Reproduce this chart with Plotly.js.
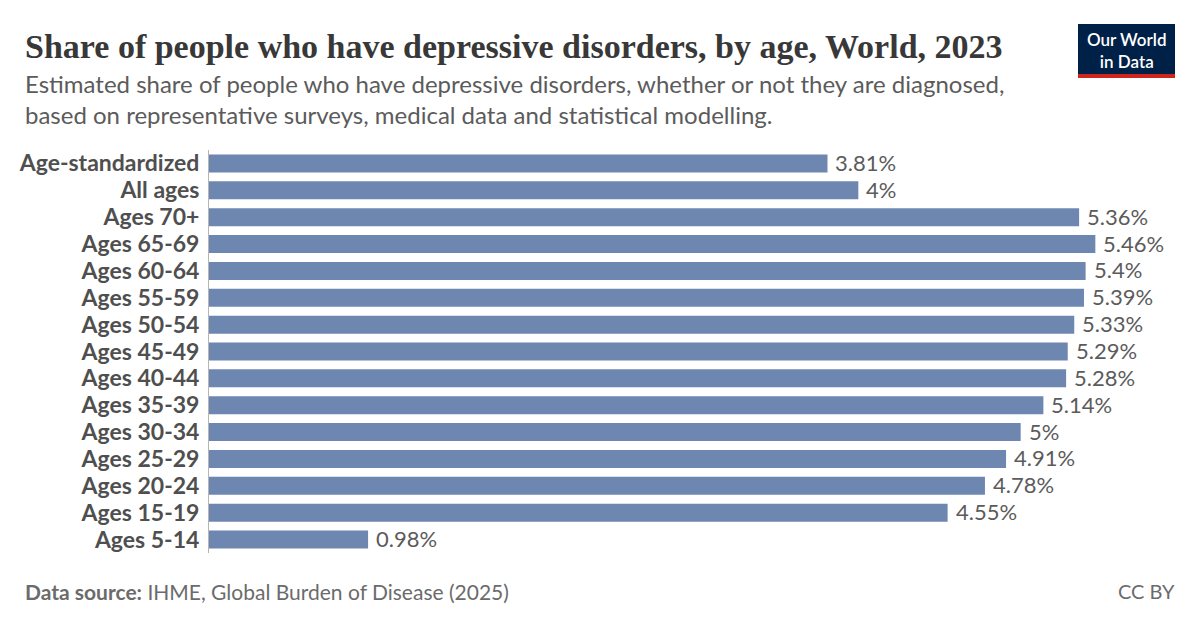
<!DOCTYPE html>
<html>
<head>
<meta charset="utf-8">
<script src="https://cdn.plot.ly/plotly-3.0.1.min.js"></script>
<style>
  html, body { margin: 0; padding: 0; background: #fff; }
  #chart { width: 1200px; height: 627px; }
</style>
</head>
<body>
<div id="chart"></div>
<script>
// Depressive disorders prevalence by age group, World, 2023 (percent of population)
const ageGroups = [
  "Age-standardized", "All ages", "Ages 70+", "Ages 65-69", "Ages 60-64",
  "Ages 55-59", "Ages 50-54", "Ages 45-49", "Ages 40-44", "Ages 35-39",
  "Ages 30-34", "Ages 25-29", "Ages 20-24", "Ages 15-19", "Ages 5-14"
];
const sharePct = [3.81, 4, 5.36, 5.46, 5.4, 5.39, 5.33, 5.29, 5.28, 5.14, 5, 4.91, 4.78, 4.55, 0.98];

const titleText = "Share of people who have depressive disorders, by age, World, 2023";
const subtitleText = "Estimated share of people who have depressive disorders, whether or not they are diagnosed,<br>based on representative surveys, medical data and statistical modelling.";
const sourceText = "<b>Data source:</b> IHME, Global Burden of Disease (2025)";

// plot area geometry in pixels
const PL = 209, PR = 17, PT = 150, PB = 74;
const PW = 1200 - PL - PR, PH = 627 - PT - PB;
const px = (x) => (x - PL) / PW;              // page x -> paper x
const py = (y) => (627 - PB - y) / PH;        // page y -> paper y

const trace = {
  type: "bar",
  orientation: "h",
  y: ageGroups,
  x: sharePct,
  marker: { color: "#6e87b0" },
  cliponaxis: false,
  hoverinfo: "skip"
};

// value labels placed just past the end of each bar
const valueLabels = sharePct.map((v, i) => ({
  xref: "x", yref: "y", x: v, y: ageGroups[i],
  xanchor: "left", yanchor: "middle", xshift: 6, yshift: 1, showarrow: false,
  text: v + "%",
  font: { family: "Lato, sans-serif", size: 22, color: "#5b5b5b" }
}));

const layout = {
  width: 1200,
  height: 627,
  paper_bgcolor: "#ffffff",
  plot_bgcolor: "#ffffff",
  margin: { l: PL, r: PR, t: PT, b: PB },
  bargap: 0.33,
  showlegend: false,
  xaxis: {
    range: [0, 6],
    showgrid: false,
    zeroline: false,
    showticklabels: false,
    showline: false,
    fixedrange: true
  },
  yaxis: {
    type: "category",
    categoryorder: "array",
    categoryarray: ageGroups,
    range: [ageGroups.length - 0.5, -0.5],
    tickmode: "array",
    tickvals: ageGroups,
    ticktext: ageGroups,
    showgrid: false,
    zeroline: false,
    showline: true,
    linecolor: "#b5b5b5",
    linewidth: 1,
    ticks: "",
    ticklabelstandoff: 4,
    tickfont: { family: "Lato, sans-serif", size: 23, color: "#4f4f4f", weight: "bold" }
  },
  annotations: valueLabels.concat([
    {
      xref: "paper", yref: "paper", x: px(23), y: py(46),
      xanchor: "left", yanchor: "middle", showarrow: false,
      text: "<b>" + titleText + "</b>",
      font: { family: "'Liberation Serif', 'DejaVu Serif', serif", size: 34, color: "#383838" }
    },
    {
      xref: "paper", yref: "paper", x: px(23), y: py(99),
      xanchor: "left", yanchor: "middle", showarrow: false, align: "left",
      text: subtitleText,
      font: { family: "Lato, sans-serif", size: 24, color: "#5b5b5b" }
    },
    {
      xref: "paper", yref: "paper", x: px(23), y: py(591),
      xanchor: "left", yanchor: "middle", showarrow: false,
      text: sourceText,
      font: { family: "Lato, sans-serif", size: 21, color: "#6b6b6b" }
    },
    {
      xref: "paper", yref: "paper", x: px(1177), y: py(591),
      xanchor: "right", yanchor: "middle", showarrow: false,
      text: "CC BY",
      font: { family: "Lato, sans-serif", size: 20, color: "#6b6b6b" }
    },
    {
      xref: "paper", yref: "paper", x: px(1127), y: py(50),
      xanchor: "center", yanchor: "middle", showarrow: false,
      text: "Our World<br>in Data",
      font: { family: "Lato, sans-serif", size: 17, color: "#ffffff", weight: 600 }
    }
  ]),
  shapes: [
    {
      type: "rect", xref: "paper", yref: "paper", layer: "below",
      x0: px(1078), x1: px(1175), y0: py(78), y1: py(24),
      fillcolor: "#002147", line: { width: 0 }
    },
    {
      type: "rect", xref: "paper", yref: "paper",
      x0: px(1078), x1: px(1175), y0: py(78), y1: py(74),
      fillcolor: "#ce261e", line: { width: 0 }
    }
  ]
};

Plotly.newPlot("chart", [trace], layout, { displayModeBar: false, staticPlot: true });
</script>
</body>
</html>
